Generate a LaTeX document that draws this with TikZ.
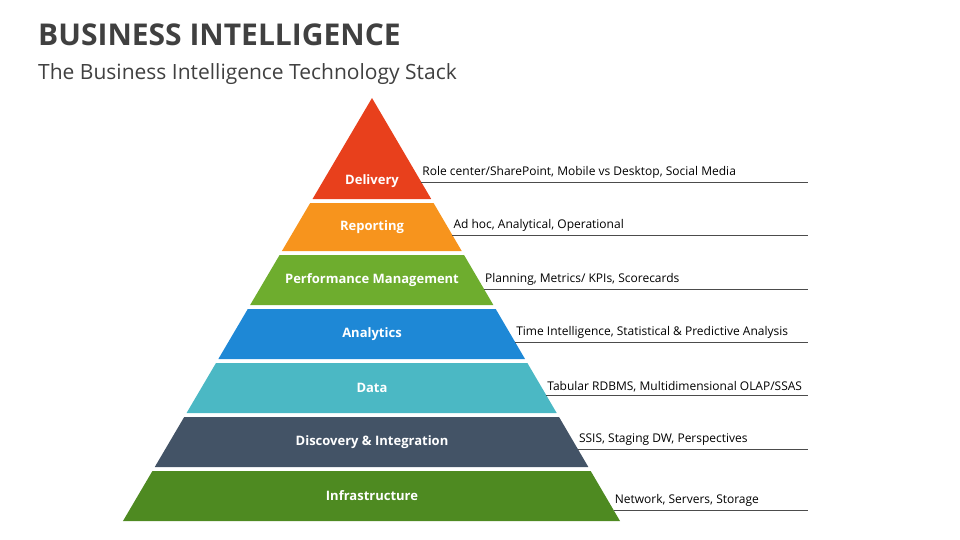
\documentclass[tikz,border=0pt]{standalone}
\usepackage{fontspec}
\setmainfont{Open Sans}
\definecolor{cDel}{HTML}{E8401C}
\definecolor{cRep}{HTML}{F7941D}
\definecolor{cPer}{HTML}{6EAD2E}
\definecolor{cAna}{HTML}{1E88D6}
\definecolor{cDat}{HTML}{4BB8C4}
\definecolor{cDis}{HTML}{435366}
\definecolor{cInf}{HTML}{4E8A21}
\definecolor{ttl}{HTML}{404040}
\tikzset{x=1pt,y=-1pt,
 lname/.style={text=white,font=\bfseries\fontsize{13}{15}\selectfont,inner sep=0},
 ldesc/.style={anchor=south west,font=\fontsize{12}{14}\selectfont,text=black,inner sep=0},
 lline/.style={draw=black!70,line width=0.6pt}}
\newcommand{\layer}[6]{% top bottom color name label-y label
 \pgfmathsetmacro{\xlt}{372-0.5887*(#1-98)}
 \pgfmathsetmacro{\xrt}{372+0.5863*(#1-98)}
 \pgfmathsetmacro{\xlb}{372-0.5887*(#2-98)}
 \pgfmathsetmacro{\xrb}{372+0.5863*(#2-98)}
 \pgfmathsetmacro{\xe}{372+0.5863*(#5-98)}
 \pgfmathsetmacro{\ym}{(#1+#2)/2+(#1==98?33:0)}
 \fill[#3] (\xlt,#1) -- (\xrt,#1) -- (\xrb,#2) -- (\xlb,#2) -- cycle;
 \node[lname] at (372,\ym) {#4};
 \draw[lline] (\xe,#5) -- (808,#5);
 \node[ldesc] at (\xe+1,#5-3) {#6};
}
\begin{document}
\begin{tikzpicture}
\useasboundingbox (0,0) rectangle (960,540);
\node[anchor=west,inner sep=0,text=ttl,font=\bfseries\fontsize{30}{34}\selectfont] (title) at (38,35) {BUSINESS INTELLIGENCE};
\node[anchor=west,inner sep=0,text=ttl,font=\fontsize{21}{25}\selectfont] (sub) at (38,74) {The Business Intelligence Technology Stack};
\layer{98}{199}{cDel}{Delivery}{182}{Role center/SharePoint, Mobile vs Desktop, Social Media}
\layer{203}{251}{cRep}{Reporting}{235}{Ad hoc, Analytical, Operational}
\layer{255}{305}{cPer}{Performance Management}{289}{Planning, Metrics/ KPIs, Scorecards}
\layer{309}{359}{cAna}{Analytics}{342}{Time Intelligence, Statistical \& Predictive Analysis}
\layer{363}{413}{cDat}{Data}{395}{Tabular RDBMS, Multidimensional OLAP/SSAS}
\layer{417}{467}{cDis}{Discovery \& Integration}{449}{SSIS, Staging DW, Perspectives}
\layer{471}{521}{cInf}{Infrastructure}{510}{Network, Servers, Storage}
\end{tikzpicture}
\end{document}
